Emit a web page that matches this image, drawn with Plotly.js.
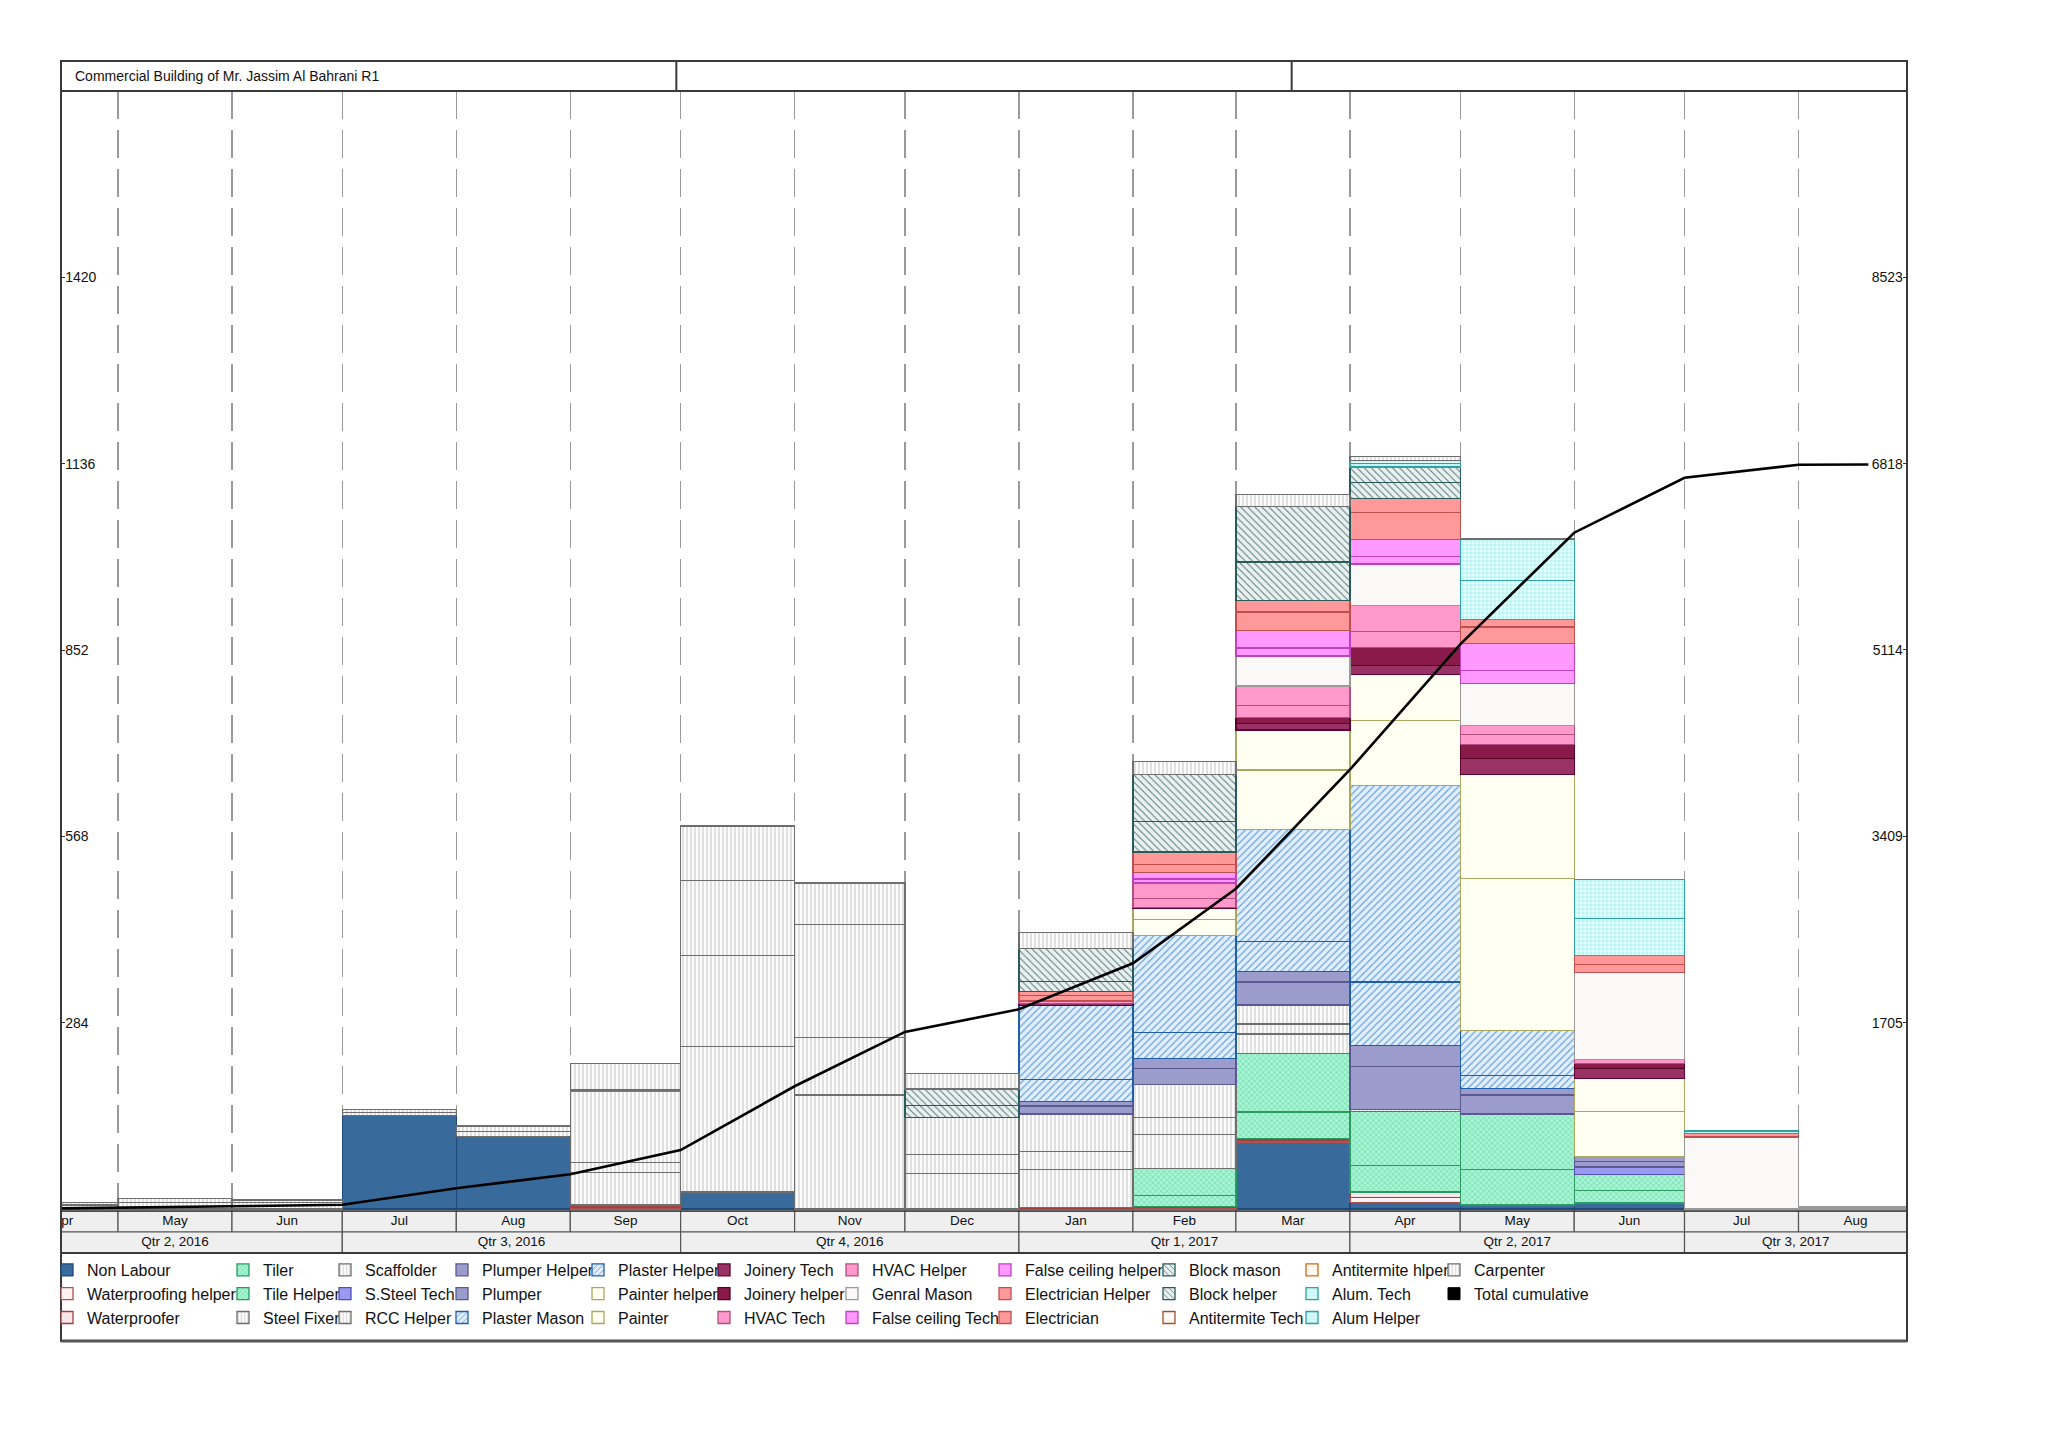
<!DOCTYPE html>
<html><head><meta charset="utf-8">
<script src="https://cdn.plot.ly/plotly-3.0.1.min.js"></script>
<style>html,body{margin:0;padding:0;background:#fff;}#chart{width:2048px;height:1448px;}</style>
</head><body><div id="chart"></div>
<script>
// ---------------- DATA ----------------
const chartTitle = 'Commercial Building of Mr. Jassim Al Bahrani R1';
const months = ['2016-04','2016-05','2016-06','2016-07','2016-08','2016-09','2016-10','2016-11','2016-12',
                '2017-01','2017-02','2017-03','2017-04','2017-05','2017-06','2017-07','2017-08'];
const monthLabels = ['Apr','May','Jun','Jul','Aug','Sep','Oct','Nov','Dec','Jan','Feb','Mar','Apr','May','Jun','Jul','Aug'];
const quarterStarts = ['2016-04','2016-07','2016-10','2017-01','2017-04','2017-07'];
const quarterLabels = ['Qtr 2, 2016','Qtr 3, 2016','Qtr 4, 2016','Qtr 1, 2017','Qtr 2, 2017','Qtr 3, 2017'];
const viewStart = '2016-04-15 12:00';
const viewEnd = '2017-08-30 12:00';
const cumulativeEndDate = '2017-08-20 00:00';
const leftTicks = [284, 568, 852, 1136, 1420];
const rightTicks = [1705, 3409, 5114, 6818, 8523];

//                        Apr  May  Jun  Jul  Aug  Sep  Oct  Nov  Dec  Jan  Feb  Mar  Apr  May  Jun  Jul  Aug
const nonLabour          = [0,   0,   0, 143, 111,   0,  26,   0,   0,   0,   0, 102,  10,   6,   9,   0,   0];
const waterproofingHelper= [0,   0,   0,   0,   0,   3,   0,   0,   0,   1,   2,   3,   8,   0,   0,   0,   0];
const waterproofer       = [0,   0,   0,   0,   0,   3,   0,   0,   0,   1,   2,   2,   8,   0,   0,   0,   0];
const tiler              = [0,   0,   0,   0,   0,   0,   0,   0,   0,   0,  17,  41,  40,  54,  19,   0,   0];
const tileHelper         = [0,   0,   0,   0,   0,   0,   0,   0,   0,   0,  41,  89,  83,  85,  25,   0,   0];
const steelFixer         = [0,   0,   0,   0,   0,  50, 222, 174,  54,  58,  52,  30,   3,   0,   0,   0,   0];
const scaffolder         = [6,  10,  10,   4,   7,  15, 138,  87,  29,  28,  25,  15,   0,   0,   0,   0,   0];
const sSteelTech         = [0,   0,   0,   0,   0,   0,   0,   0,   0,   0,   0,   0,   0,   0,  11,   0,   0];
const rccHelper          = [0,   0,   0,   0,   0, 108, 115, 173,  56,  57,  51,  29,   0,   0,   0,   0,   0];
const plumperHelper      = [0,   0,   0,   0,   0,   0,   0,   0,   0,  12,  24,  35,  65,  29,   8,   0,   0];
const plumper            = [0,   0,   0,   0,   0,   0,   0,   0,   0,   7,  15,  16,  32,  10,   8,   0,   0];
const plasterMason       = [0,   0,   0,   0,   0,   0,   0,   0,   0,  33,  40,  46,  97,  20,   0,   0,   0];
const plasterHelper      = [0,   0,   0,   0,   0,   0,   0,   0,   0, 113, 148, 170, 299,  68,   0,   0,   0];
const painterHelper      = [0,   0,   0,   0,   0,   0,   0,   0,   0,   0,  24,  91, 100, 232,  69,   0,   0];
const painter            = [0,   0,   0,   0,   0,   0,   0,   0,   0,   0,  17,  61,  70, 158,  50,   0,   0];
const joineryTech        = [0,   0,   0,   0,   0,   0,   0,   0,   0,   3,   2,  10,  13,  25,  15,   0,   0];
const joineryHelper      = [0,   0,   0,   0,   0,   0,   0,   0,   0,   0,   0,   9,  28,  21,   8,   0,   0];
const hvacTech           = [0,   0,   0,   0,   0,   0,   0,   0,   0,   4,  13,  18,  24,  15,   6,   0,   0];
const hvacHelper         = [0,   0,   0,   0,   0,   0,   0,   0,   0,   0,  24,  30,  40,  14,   0,   0,   0];
const genralMason        = [0,   0,   0,   0,   0,   0,   0,   0,   0,   0,   0,  46,  63,  64, 132, 110,   3];
const falseCeilingTech   = [0,   0,   0,   0,   0,   0,   0,   0,   0,   0,   6,  12,  12,  20,   0,   0,   0];
const falseCeilingHelper = [0,   0,   0,   0,   0,   0,   0,   0,   0,   0,  10,  27,  25,  41,   0,   0,   0];
const electricianHelper  = [0,   0,   0,   0,   0,   0,   0,   0,   0,   8,  12,  28,  42,  25,  13,   0,   0];
const electrician        = [0,   0,   0,   0,   0,   0,   0,   0,   0,   7,  19,  18,  21,  12,  13,   5,   0];
const blockMason         = [0,   0,   0,   0,   0,   0,   0,   0,  19,  15,  47,  58,  24,   0,   0,   0,   0];
const blockHelper        = [0,   0,   0,   0,   0,   0,   0,   0,  25,  50,  71,  85,  24,   0,   0,   0,   0];
const antitermiteTech    = [0,   0,   0,   0,   0,   1,   0,   0,   0,   0,   0,   0,   0,   0,   0,   0,   0];
const antitermiteHlper   = [0,   0,   0,   0,   0, 1.5,   0,   0,   0,   0,   0,   0,   0,   0,   0,   0,   0];
const alumTech           = [0,   0,   0,   0,   0,   0,   0,   0,   0,   0,   0,   0,   5,  59,  57,   4,   0];
const alumHelper         = [0,   0,   0,   0,   0,   0,   0,   0,   0,   0,   0,   0,   5,  62,  59,   0,   0];
const carpenter          = [3.5,5.6,  4, 4.7, 8.7,  40,  83,  63,  24,  24,  20,  18,   6,   1,   0,   0,   0];

const seriesNames = ['Non Labour','Waterproofing helper','Waterproofer','Tiler','Tile Helper','Steel Fixer',
  'Scaffolder','S.Steel Tech','RCC Helper','Plumper Helper','Plumper','Plaster Mason','Plaster Helper',
  'Painter helper','Painter','Joinery Tech','Joinery helper','HVAC Tech','HVAC Helper','Genral Mason',
  'False ceiling Tech','False ceiling helper','Electrician Helper','Electrician','Block mason','Block helper',
  'Antitermite Tech','Antitermite hlper','Alum. Tech','Alum Helper','Carpenter'];
const seriesValues = [nonLabour,waterproofingHelper,waterproofer,tiler,tileHelper,steelFixer,scaffolder,
  sSteelTech,rccHelper,plumperHelper,plumper,plasterMason,plasterHelper,painterHelper,painter,joineryTech,
  joineryHelper,hvacTech,hvacHelper,genralMason,falseCeilingTech,falseCeilingHelper,electricianHelper,
  electrician,blockMason,blockHelper,antitermiteTech,antitermiteHlper,alumTech,alumHelper,carpenter];
const cumulativeName = 'Total cumulative';

// ---------------- STYLES ----------------
const FONT = 'Liberation Sans, Arial, Helvetica, sans-serif';
const grayLines = {fill:'#fcfcfc', line:'#6e6e6e', pat:{shape:'|', fgcolor:'#c4c4c4', bgcolor:'#fcfcfc', size:4, solidity:0.25}};
const greenPat = {shape:'x', fgcolor:'#3cc88a', bgcolor:'#a8f4d4', size:4, solidity:0.18};
const plasterPat = {shape:'/', fgcolor:'#5f9fdc', bgcolor:'#e2eefb', size:5, solidity:0.22};
const blockPat = {shape:'\\', fgcolor:'#557a7a', bgcolor:'#eaf0f0', size:5, solidity:0.2};
const alumPat = {shape:'+', fgcolor:'#7ae4e4', bgcolor:'#e8ffff', size:4, solidity:0.22};
const styles = [
  {fill:'#386a9c', line:'#1d4a7a'},
  {fill:'#fff2f2', line:'#b05050'},
  {fill:'#f8e6ea', line:'#a04040'},
  {fill:'#a0f0cc', line:'#2a9a60', pat:greenPat},
  {fill:'#a0f0cc', line:'#2a9a60', pat:greenPat},
  grayLines, grayLines,
  {fill:'#9a9af0', line:'#5050b0'},
  grayLines,
  {fill:'#9c9ccc', line:'#5a5a90'},
  {fill:'#9c9ccc', line:'#5a5a90'},
  {fill:'#d8e8f8', line:'#1f5fa8', pat:plasterPat},
  {fill:'#d8e8f8', line:'#1f5fa8', pat:plasterPat},
  {fill:'#fffff2', line:'#a8a860'},
  {fill:'#fffff2', line:'#a8a860'},
  {fill:'#993366', line:'#660033'},
  {fill:'#8a1a4a', line:'#55001f'},
  {fill:'#ff99cc', line:'#b05080'},
  {fill:'#ff99cc', line:'#b05080'},
  {fill:'#fbf8f8', line:'#999999'},
  {fill:'#ff99ff', line:'#c040c0'},
  {fill:'#ff99ff', line:'#c040c0'},
  {fill:'#ff9999', line:'#c05050'},
  {fill:'#ff9999', line:'#c05050'},
  {fill:'#e0e8e8', line:'#2a5a5a', pat:blockPat},
  {fill:'#e0e8e8', line:'#2a5a5a', pat:blockPat},
  {fill:'#fff8f4', line:'#a0522d'},
  {fill:'#fff8f0', line:'#cc6a10'},
  {fill:'#e6ffff', line:'#30a0a0', pat:alumPat},
  {fill:'#e6ffff', line:'#30a0a0', pat:alumPat},
  grayLines
];

// ---------------- GEOMETRY ----------------
const W = 2048, H = 1448;
const frameL = 61, frameR = 1907, headerT = 61, plotT = 91, plotB = 1211, rowsB = 1253, legendB = 1341;
const px2x = p => (p - frameL) / (frameR - frameL);
const px2y = p => (rowsB - p) / (rowsB - plotT);
const rowsFrac = px2y(plotB);
const legendTextX = [87, 263, 365, 482, 618, 744, 872, 1025, 1189, 1332, 1474];
const legendTop = 1253;

// ---------------- HELPERS ----------------
const pad = n => String(n).padStart(2, '0');
const fmt = ms => { const d = new Date(ms); return d.getUTCFullYear()+'-'+pad(d.getUTCMonth()+1)+'-'+pad(d.getUTCDate())+' '+pad(d.getUTCHours())+':'+pad(d.getUTCMinutes())+':00'; };
const ymStart = ym => { const [y, m] = ym.split('-').map(Number); return Date.UTC(y, m - 1, 1); };
const ymEnd = ym => { const [y, m] = ym.split('-').map(Number); return Date.UTC(y, m, 1); };
const toMs = s => { const [d, t] = s.split(' '); const [y, mo, da] = d.split('-').map(Number); const [h, mi] = (t || '0:0').split(':').map(Number); return Date.UTC(y, mo - 1, da, h, mi); };
const qEnd = ym => { const [y, m] = ym.split('-').map(Number); return Date.UTC(y, m - 1 + 3, 1); };

const mStart = months.map(ymStart), mEnd = months.map(ymEnd);
const mMid = months.map((m, i) => fmt((mStart[i] + mEnd[i]) / 2));
const mWidth = months.map((m, i) => mEnd[i] - mStart[i]);
const vS = toMs(viewStart), vE = toMs(viewEnd);

// ---------------- TRACES ----------------
const traces = [];
seriesNames.forEach((name, i) => {
  const st = styles[i];
  const marker = {color: st.fill, line: {color: st.line, width: 1.3}};
  if (st.pat) marker.pattern = Object.assign({fillmode: 'replace'}, st.pat);
  const col = Math.floor(i / 3);
  traces.push({
    type: 'bar', name: name, x: mMid, width: mWidth,
    y: seriesValues[i].map(v => v > 0 ? v : null),
    marker: marker, xaxis: 'x', yaxis: 'y',
    legend: col === 0 ? 'legend' : 'legend' + (col + 1),
    hoverinfo: 'skip'
  });
});

// monthly totals & cumulative
const totals = months.map((m, j) => seriesValues.reduce((s, arr) => s + arr[j], 0));
const cumX = [fmt(mStart[0])], cumY = [0];
let run = 0;
totals.forEach((t, j) => {
  run += t;
  cumX.push(j === months.length - 1 ? fmt(toMs(cumulativeEndDate)) : fmt(mEnd[j]));
  cumY.push(run);
});
// legend swatch for the cumulative line (no bars drawn: all values empty)
traces.push({type: 'bar', name: cumulativeName, x: mMid, y: months.map(() => null), width: mWidth,
  marker: {color: '#000', line: {color: '#000', width: 1}}, legend: 'legend11', xaxis: 'x', yaxis: 'y2', hoverinfo: 'skip'});
traces.push({type: 'scatter', mode: 'lines', name: cumulativeName, x: cumX, y: cumY, xaxis: 'x', yaxis: 'y2',
  line: {color: '#000', width: 2.6}, showlegend: false, hoverinfo: 'skip'});

// month / quarter row labels
const rowFont = {family: FONT, size: 13.5, color: '#111'};
traces.push({type: 'scatter', mode: 'text', x: mMid, y: months.map(() => 1.5), text: monthLabels,
  textfont: rowFont, xaxis: 'x', yaxis: 'y3', cliponaxis: true, showlegend: false, hoverinfo: 'skip'});
const qS = quarterStarts.map(ymStart), qE = quarterStarts.map(qEnd);
const qMid = qS.map((s, i) => fmt((s + Math.min(qE[i], vE)) / 2));
traces.push({type: 'scatter', mode: 'text', x: qMid, y: quarterStarts.map(() => 0.5), text: quarterLabels,
  textfont: rowFont, xaxis: 'x', yaxis: 'y3', cliponaxis: true, showlegend: false, hoverinfo: 'skip'});

// ---------------- SHAPES ----------------
const shapes = [];
months.forEach((m, i) => shapes.push({type: 'rect', xref: 'x', yref: 'y3', x0: fmt(mStart[i]), x1: fmt(mEnd[i]), y0: 1, y1: 2,
  fillcolor: '#efefef', line: {color: '#555', width: 1.2}, layer: 'between'}));
quarterStarts.forEach((q, i) => shapes.push({type: 'rect', xref: 'x', yref: 'y3', x0: fmt(qS[i]), x1: fmt(qE[i]), y0: 0, y1: 1,
  fillcolor: '#efefef', line: {color: '#555', width: 1.2}, layer: 'between'}));
const frameLine = {color: '#3a3a3a', width: 2};
shapes.push({type: 'rect', xref: 'paper', yref: 'paper', x0: 0, x1: 1, y0: px2y(legendB), y1: px2y(headerT), line: frameLine, fillcolor: 'rgba(0,0,0,0)'});
shapes.push({type: 'line', xref: 'paper', yref: 'paper', x0: 0, x1: 1, y0: 1, y1: 1, line: frameLine});
shapes.push({type: 'line', xref: 'paper', yref: 'paper', x0: 1/3, x1: 1/3, y0: 1, y1: px2y(headerT), line: frameLine});
shapes.push({type: 'line', xref: 'paper', yref: 'paper', x0: 2/3, x1: 2/3, y0: 1, y1: px2y(headerT), line: frameLine});
shapes.push({type: 'line', xref: 'paper', yref: 'paper', x0: 0, x1: 1, y0: rowsFrac, y1: rowsFrac, line: {color: '#333', width: 1.5}});
shapes.push({type: 'line', xref: 'paper', yref: 'paper', x0: 0, x1: 1, y0: 0, y1: 0, line: frameLine});
shapes.push({type: 'line', xref: 'paper', yref: 'paper', x0: 0, x1: 1, y0: px2y(legendB), y1: px2y(legendB), line: {color: '#555', width: 3}});

// ---------------- LAYOUT ----------------
const ratio = rightTicks[rightTicks.length - 1] / leftTicks[leftTicks.length - 1];
const tickFont = {family: FONT, size: 14, color: '#111'};
const layout = {
  width: W, height: H, paper_bgcolor: '#fff', plot_bgcolor: '#fff',
  margin: {l: frameL, r: W - frameR, t: plotT, b: H - rowsB, autoexpand: false},
  barmode: 'stack', bargap: 0, hovermode: false, showlegend: true,
  font: {family: FONT, color: '#111'},
  xaxis: {type: 'date', range: [fmt(vS), fmt(vE)], tickvals: months.slice(1).map(m => fmt(ymStart(m))),
    showticklabels: false, ticks: '', showgrid: true, gridcolor: '#9a9a9a', gridwidth: 1.4, griddash: '28px,11px',
    zeroline: false, showline: false, fixedrange: true},
  yaxis: {domain: [rowsFrac, 1], range: [-3, 1704], tickvals: leftTicks, ticks: 'inside', ticklen: 4, tickcolor: '#333',
    ticklabelposition: 'inside', tickfont: tickFont, showgrid: false, zeroline: false, showline: false, fixedrange: true},
  yaxis2: {overlaying: 'y', side: 'right', range: [-3 * ratio, 1704 * ratio], tickvals: rightTicks, ticks: 'inside', ticklen: 4,
    tickcolor: '#333', ticklabelposition: 'inside', tickfont: tickFont, showgrid: false, zeroline: false, showline: false, fixedrange: true},
  yaxis3: {domain: [0, rowsFrac], range: [0, 2], visible: false, fixedrange: true},
  shapes: shapes,
  annotations: [{xref: 'paper', yref: 'paper', x: px2x(73), y: px2y((headerT + plotT) / 2), xanchor: 'left', yanchor: 'middle',
    text: chartTitle, showarrow: false, font: {family: FONT, size: 14, color: '#111'}}]
};
legendTextX.forEach((tx, k) => {
  const key = k === 0 ? 'legend' : 'legend' + (k + 1);
  layout[key] = {x: px2x(tx - 40), y: px2y(legendTop), xanchor: 'left', yanchor: 'top', orientation: 'v', traceorder: 'normal',
    font: {family: FONT, size: 16, color: '#111'}, bgcolor: 'rgba(0,0,0,0)', borderwidth: 0, itemclick: false, itemdoubleclick: false};
});

Plotly.newPlot('chart', traces, layout, {staticPlot: true, displayModeBar: false});
</script></body></html>
